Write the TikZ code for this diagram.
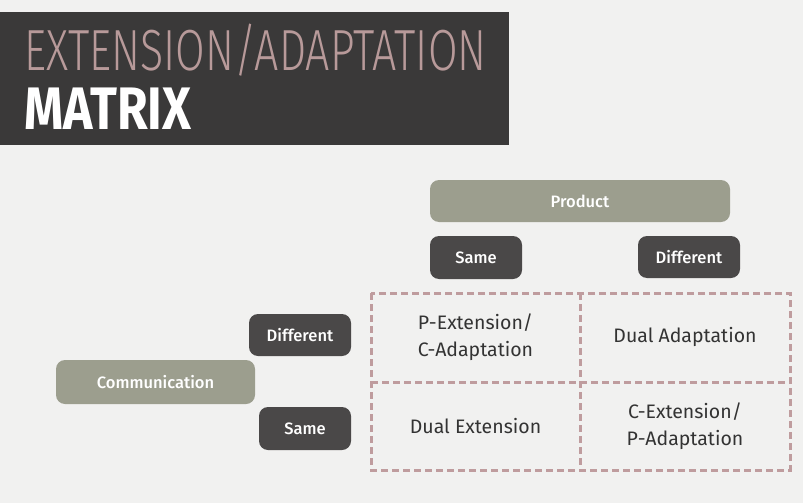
\documentclass[tikz,border=0pt]{standalone}
\usepackage{fontspec}
\setmainfont{Fira Sans}
\begin{document}
\begin{tikzpicture}[x=1pt,y=-1pt,
  olive/.style={fill=olivebox,rounded corners=9pt},
  dark/.style={fill=darkbox,rounded corners=9pt},
  blab/.style={text=white,font=\fontsize{16.5}{18}\selectfont\fontspec{Fira Sans Medium}},
  cell/.style={text=celltext,align=center,font=\fontsize{19.5}{27}\selectfont}]
\definecolor{bg}{HTML}{F1F1F0}
\definecolor{titlebg}{HTML}{3A3939}
\definecolor{titlepink}{HTML}{B89A9A}
\definecolor{olivebox}{HTML}{9C9E8E}
\definecolor{darkbox}{HTML}{4A4848}
\definecolor{gridc}{HTML}{BF9C9E}
\definecolor{celltext}{HTML}{333333}
\fill[bg] (0,0) rectangle (803,503);
\useasboundingbox (0,0) rectangle (803,503);
\fill[titlebg] (0,12) rectangle (509,145);
\node[anchor=west,text=titlepink,inner sep=0,xscale=0.74] (t1) at (24,50) {\fontsize{58}{58}\selectfont\fontspec{Fira Sans Light}EXTENSION/ADAPTATION};
\node[anchor=west,text=white,inner sep=0,xscale=0.83] (t2) at (24,109) {\fontsize{60}{60}\selectfont\fontspec{Fira Sans}\bfseries MATRIX};
\path[olive] (430,180) rectangle (730,222);
\node[blab] (prod) at (580,201) {Product};
\path[dark] (430,236) rectangle (522,279);
\node[blab] (s1) at (476,257.5) {Same};
\path[dark] (638,236) rectangle (740,278);
\node[blab] (d1) at (689,257) {Different};
\path[dark] (249,314) rectangle (351,356);
\node[blab] (d2) at (300,335) {Different};
\path[dark] (259,407) rectangle (351,450);
\node[blab] (s2) at (305,428.5) {Same};
\path[olive] (56,360) rectangle (255,404);
\node[blab] (comm) at (155.5,382) {Communication};
\draw[gridc,line width=3pt,dash pattern=on 7pt off 4pt] (371,293) rectangle (790,470) (580,293) -- (580,470) (371,382) -- (790,382);
\node[cell] (c1) at (475.5,337) {P-Extension/\\C-Adaptation};
\node[cell] (c2) at (685,337) {Dual Adaptation};
\node[cell] (c3) at (475.5,426) {Dual Extension};
\node[cell] (c4) at (685,426) {C-Extension/\\P-Adaptation};
\end{tikzpicture}
\end{document}
